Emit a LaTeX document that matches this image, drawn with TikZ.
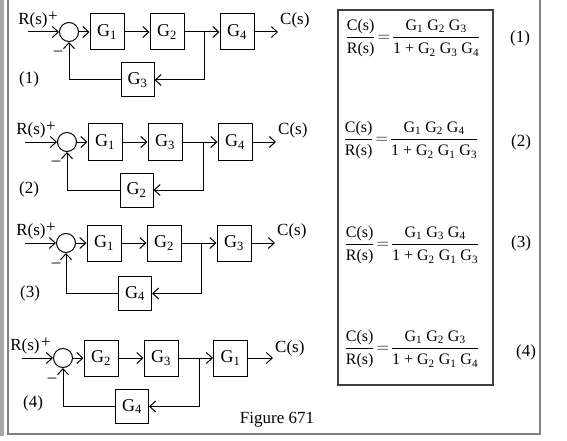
\documentclass[tikz,border=0pt]{standalone}
\usepackage{amsmath}
\usepackage{fontspec}
\setmainfont{Liberation Serif}
\usetikzlibrary{arrows.meta}

\newcommand{\gsub}[1]{G\textsubscript{#1}}

\tikzset{
  blk/.style={draw, line width=1pt, minimum width=34pt, minimum height=36pt, inner sep=0pt, font=\fontsize{18}{20}\selectfont},
  fbblk/.style={blk, minimum width=33pt, minimum height=34pt},
  sumnode/.style={draw, line width=1pt, circle, minimum size=19pt, inner sep=0pt},
  lbl/.style={inner sep=0pt, font=\fontsize{17}{19}\selectfont},
  frm/.style={inner sep=0pt, font=\fontsize{16}{19}\selectfont},
  sig/.style={line width=1pt, -{Straight Barb[length=6pt,width=11pt]}},
}

\begin{document}
\begin{tikzpicture}[x=1pt, y=-1pt]
        \useasboundingbox (0,0) rectangle (567,441);
        % Page edge and frames
        \fill [gray!70] (0,0) rectangle (4,436);
        \draw [gray, line width=1.6pt] (8,0) -- (8,434) -- (540,434) -- (540,0);
        \draw [black!75, line width=1.2pt] (338,10) rectangle (493,385);

        % Diagram (1)
        \begin{scope}[shift={(0,32)}]
        \node[sumnode] (sum) at (69,0) {};
        \node[blk] (ba) at (107,0) {\gsub{1}};
        \node[blk] (bb) at (167,0) {\gsub{2}};
        \node[blk] (bc) at (237,0) {\gsub{4}};
        \node[fbblk] (fb) at (137.5,48) {\gsub{3}};
        \coordinate (in) at (28,0);
        \coordinate (br) at (204,0);
        \coordinate (out) at (278,0);
        \node[lbl] (rin) at (33,-12) {R(s)};
        \node[lbl] (plus) at (53,-15) {+};
        \node[lbl] (minus) at (58,21) {--};
        \node[lbl] (num) at (29,47) {(1)};
        \node[lbl, anchor=west] (cout) at (280,-12) {C(s)};
        \draw[sig] (in) -- (sum.west);
        \draw[sig] (sum.east) -- (ba.west);
        \draw[sig] (ba.east) -- (bb.west);
        \draw[sig] (bb.east) -- (bc.west);
        \draw[sig] (bc.east) -- (out);
        \draw[sig] (br) |- (fb.east);
        \draw[sig] (fb.west) -| (sum.south);
        \end{scope}

        % Diagram (2)
        \begin{scope}[shift={(-2,142)}]
        \node[sumnode] (sum) at (69,0) {};
        \node[blk] (ba) at (107,0) {\gsub{1}};
        \node[blk] (bb) at (167,0) {\gsub{3}};
        \node[blk] (bc) at (237,0) {\gsub{4}};
        \node[fbblk] (fb) at (138.5,48) {\gsub{2}};
        \coordinate (in) at (27,0);
        \coordinate (br) at (205,0);
        \coordinate (out) at (278,0);
        \node[lbl] (rin) at (33,-12) {R(s)};
        \node[lbl] (plus) at (53,-15) {+};
        \node[lbl] (minus) at (58,21) {--};
        \node[lbl] (num) at (31,47) {(2)};
        \node[lbl, anchor=west] (cout) at (280,-12) {C(s)};
        \draw[sig] (in) -- (sum.west);
        \draw[sig] (sum.east) -- (ba.west);
        \draw[sig] (ba.east) -- (bb.west);
        \draw[sig] (bb.east) -- (bc.west);
        \draw[sig] (bc.east) -- (out);
        \draw[sig] (br) |- (fb.east);
        \draw[sig] (fb.west) -| (sum.south);
        \end{scope}

        % Diagram (3)
        \begin{scope}[shift={(-3,243)}]
        \node[sumnode] (sum) at (69,0) {};
        \node[blk] (ba) at (107,0) {\gsub{1}};
        \node[blk] (bb) at (167,0) {\gsub{2}};
        \node[blk] (bc) at (237,0) {\gsub{3}};
        \node[fbblk] (fb) at (138,50.5) {\gsub{4}};
        \coordinate (in) at (28,0);
        \coordinate (br) at (204,0);
        \coordinate (out) at (278,0);
        \node[lbl] (rin) at (34,-12) {R(s)};
        \node[lbl] (plus) at (54,-15) {+};
        \node[lbl] (minus) at (59,22) {--};
        \node[lbl] (num) at (33,50) {(3)};
        \node[lbl, anchor=west] (cout) at (280,-12) {C(s)};
        \draw[sig] (in) -- (sum.west);
        \draw[sig] (sum.east) -- (ba.west);
        \draw[sig] (ba.east) -- (bb.west);
        \draw[sig] (bb.east) -- (bc.west);
        \draw[sig] (bc.east) -- (out);
        \draw[sig] (br) |- (fb.east);
        \draw[sig] (fb.west) -| (sum.south);
        \end{scope}

        % Diagram (4)
        \begin{scope}[shift={(-6,358)}]
        \node[sumnode] (sum) at (69,0) {};
        \node[blk] (ba) at (107,0) {\gsub{2}};
        \node[blk] (bb) at (167,0) {\gsub{3}};
        \node[blk] (bc) at (236.5,0) {\gsub{1}};
        \node[fbblk] (fb) at (138,48.5) {\gsub{4}};
        \coordinate (in) at (28,0);
        \coordinate (br) at (205,0);
        \coordinate (out) at (279,0);
        \node[lbl] (rin) at (31,-12) {R(s)};
        \node[lbl] (plus) at (52,-15) {+};
        \node[lbl] (minus) at (58,22) {--};
        \node[lbl] (num) at (39,45) {(4)};
        \node[lbl, anchor=west] (cout) at (281,-10) {C(s)};
        \draw[sig] (in) -- (sum.west);
        \draw[sig] (sum.east) -- (ba.west);
        \draw[sig] (ba.east) -- (bb.west);
        \draw[sig] (bb.east) -- (bc.west);
        \draw[sig] (bc.east) -- (out);
        \draw[sig] (br) |- (fb.east);
        \draw[sig] (fb.west) -| (sum.south);
        \end{scope}

        % Transfer functions
        \node[frm] (fa) at (413,38) {$\dfrac{\mbox{C(s)}}{\mbox{R(s)}}\!=\!\dfrac{\mbox{\gsub{1} \gsub{2} \gsub{3}}}{\mbox{1 + \gsub{2} \gsub{3} \gsub{4}}}$};
        \node[frm] (fb) at (411,140) {$\dfrac{\mbox{C(s)}}{\mbox{R(s)}}\!=\!\dfrac{\mbox{\gsub{1} \gsub{2} \gsub{4}}}{\mbox{1 + \gsub{2} \gsub{1} \gsub{3}}}$};
        \node[frm] (fc) at (412,245) {$\dfrac{\mbox{C(s)}}{\mbox{R(s)}}\!=\!\dfrac{\mbox{\gsub{1} \gsub{3} \gsub{4}}}{\mbox{1 + \gsub{2} \gsub{1} \gsub{3}}}$};
        \node[frm] (fd) at (412,349) {$\dfrac{\mbox{C(s)}}{\mbox{R(s)}}\!=\!\dfrac{\mbox{\gsub{1} \gsub{2} \gsub{3}}}{\mbox{1 + \gsub{2} \gsub{1} \gsub{4}}}$};
        \node[lbl] (na) at (520,38) {(1)};
        \node[lbl] (nb) at (521,142) {(2)};
        \node[lbl] (nc) at (521,243) {(3)};
        \node[lbl] (nd) at (526,352) {(4)};
        \node[lbl] (cap) at (277,420) {Figure 671};
\end{tikzpicture}
\end{document}
